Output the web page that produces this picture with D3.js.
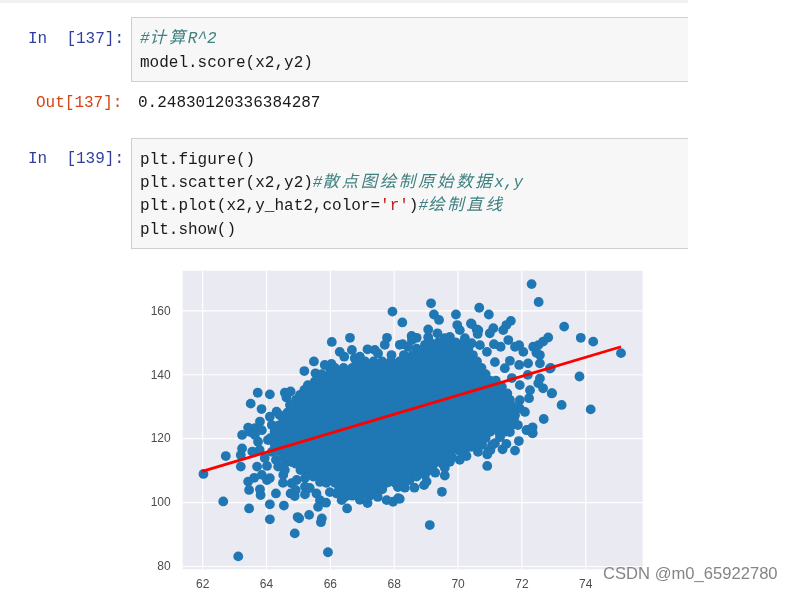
<!DOCTYPE html>
<html>
<head>
<meta charset="utf-8">
<script src="https://cdn.jsdelivr.net/npm/d3@7"></script>
<style>
  html, body { margin: 0; padding: 0; background: #fff; }
  svg { display: block; filter: blur(0.4px); }
  .mono { font-family: "Liberation Mono", monospace; font-size: 16px; }
  .cjk { font-family: "Noto Sans CJK SC", sans-serif; font-size: 16.5px; letter-spacing: 2.6px; }
  .tick text { font-family: "Liberation Sans", Arial, sans-serif; font-size: 12px; fill: #4d4d4d; }
</style>
</head>
<body>
<svg id="page" width="793" height="592"></svg>
<script>
// regression line
const lineX = [62, 75.12];
const lineY = [109.6, 148.6];

const xTicks = [62, 64, 66, 68, 70, 72, 74];
const yTicks = [80, 100, 120, 140, 160];

// loose points around the cloud [x, y]
const loosePoints = [
  [72.32,168.2],[72.54,162.6],[73.34,154.9],[73.86,151.4],[74.25,150.2],[75.12,146.6],[73.82,139.3],[73.26,130.4],
  [74.17,129],[72.7,126],[72.24,132.5],[72.92,142],[72.96,134.1],[62.04,108.8],[62.74,114.4],[62.66,100.2],
  [63.47,98],[64.12,99.3],[64.12,94.6],[64.56,98.9],[64.9,90.2],[63.13,83],[65.94,84.3],[64.99,95.3],[65.04,94.9],
  [65.35,96],[65.75,94.9],[65.72,93.7],[66.54,98],[67.18,99.7],[67.78,100.6],[67.98,100.1],[68.14,101.2],
  [69.13,92.8],[69.51,103.2],[68.35,104.5],[68.65,104.5],[68.95,105.3],[69.03,106.4],[68.19,101],[69.6,108.3],
  [69.3,109.2],[69.76,112.6],[70.28,114.4],[70.93,111.3],[71.8,116.1],[71.92,119.1],[71.41,116.5],[71.53,118.2],
  [70.93,114.9],[71.03,116.3],[70.77,117.9],[71.17,118.4],[70.44,117.3],[72.35,121.5],[72.16,122.5],[68.63,109.5],
  [69.2,112.1],[69.76,115.8],[72.84,151.5],[72.68,150.2],[72.53,149.1],[72.37,148.6],[72.58,146],[72.47,146.7],
  [72.58,143.4],[72.89,141.8],[72.21,143.4],[72.06,147],[71.93,149.1],[71.8,148.6],[71.64,144.2],[71.93,142.9],
  [71.67,156.7],[71.53,155.4],[71.43,153.8],[71.59,150.7],[71.12,154.4],[71.01,152.8],[71.35,148.6],[71.14,149.4],
  [70.98,158.7],[70.65,153.8],[70.44,155.7],[72.58,138.7],[72.68,135.6],[72.95,134],[72.53,137.2],[71.95,129.3],
  [71.8,127.2],[72.35,123.4],[72.18,122.6],[72.35,121.7],[70.96,115.8],[69.17,162.2],[69.26,158.7],[69.42,157],
  [67.96,159.6],[68.27,156.2],[67.79,151.4],[69.95,158.7],[70.68,160.8],[70.42,155.9],[69.99,155.4],[70.07,153.8],
  [70.6,154],[70.63,152.6],[69.08,154],[68.56,152],[68.72,151.4],[69.37,152.8],[69.08,151.6],[69.76,151.7],
  [68.28,149.4],[68.45,148.6],[70.44,149.7],[70.7,149.1],[67.18,147.8],[67.51,146.5],[67.93,146],[66.94,145.5],
  [66.78,145],[66.06,150.1],[66.63,151.4],[66.45,145.5],[65.5,144],[65.2,141],[66.05,143.2],[65.55,140.3],[66,141.9],
  [63.74,134.2],[64.12,133.7],[64.59,134.2],[64.77,134.6],[64.64,132.7],[63.52,130.8],[63.86,129.1],[65.2,135.1],
  [64.33,128.3],[63.44,123.3],[63.65,123.1],[63.81,125.2],[64.12,126.7],[64.96,131.9],[65.53,137.7],[63.25,121],
  [63.25,116.8],[63.21,114.7],[63.21,111.1],[63.57,115.8],[63.75,118.9],[63.8,116.3],[63.49,122],[63.72,111.1],
  [64.03,111.3],[63.63,107.6],[63.44,106.4],[63.47,103.8],[63.81,104],[63.83,102.2],[64.03,106.9],[64.31,102.7],
  [64.77,102.7],[64.9,101.9],[65.22,102.4],[65.58,102.7],[65.69,100.6],[65.88,99.8],[65.63,98.5],[64.38,111.1],
  [64.59,112.1],[64.96,106.9],[64.54,108.5],[64.8,105.9],[65.22,104.8],[65.27,109],[66.37,100.6],[66.21,102.7],
  [67.52,103.5],[67,103.8],[67.88,106.4],[68.61,109.5],[68.25,109]
];

// fringe of the cloud, where the points start to overlap [x, y]
const fringePoints = [
  [64.06,119.4],[64.37,117.8],[64.18,115.7],[63.96,113.8],[64.31,113.2],[64.59,110],[64.81,112.5],[64.12,107.5],
  [64.53,106],[63.87,108.5],[64.93,103.8],[65.22,107.5],[65.37,104.4],[65.69,106.3],[66,103.1],[66.47,101.6],
  [65.53,110],[64.18,124.1],[63.87,122.5],[63.65,121],[64.43,127.2],[64.75,130.4],[65.06,133.5],[65.31,136.6],
  [64.9,126.3],[65.84,142.9],[66.31,147],[66.69,147.6],[67.41,147.6],[67.72,149.2],[68.19,149.2],[68.57,150.7],
  [68.98,149.2],[69.6,151.3],[70.23,151.3],[70.92,147],[71.17,143.8],[71.48,141.9],[71.7,138.8],[71.95,136.6],
  [72.2,139.8],[72.27,135],[71.95,131.9],[72.11,128.2],[71.89,124.1],[71.64,121.9],[71.33,120.3],[71.08,117.8],
  [70.64,115.7],[70.07,113.2],[69.6,110.7],[68.98,108.5],[68.5,106.9],[68.13,104.7],[67.5,101.6],[66.94,100.7]
];

// dense middle of the cloud, one list of x per height
const coreHeights = [150,148,146,144,142,140,138,136,134,132,130,128,126,124,122,120,118,116,114,112,110,108,106,104,102];
const coreX = [
  [69.13,69.4,69.67,69.94,70.21],
  [68.72,68.99,69.26,69.53,69.8,70.07,70.34],
  [68.32,68.59,68.86,69.13,69.4,69.67,69.94,70.21,70.48],
  [66.83,67.1,67.37,67.64,67.91,68.18,68.45,68.72,68.99,69.26,69.53,69.8,70.07,70.34,70.61],
  [66.16,66.43,66.7,66.97,67.24,67.51,67.78,68.05,68.32,68.59,68.86,69.13,69.4,69.67,69.94,70.21,70.48,70.75],
  [65.75,66.02,66.29,66.56,66.83,67.1,67.37,67.64,67.91,68.18,68.45,68.72,68.99,69.26,69.53,69.8,70.07,70.34,70.61,70.88],
  [65.62,65.89,66.16,66.43,66.7,66.97,67.24,67.51,67.78,68.05,68.32,68.59,68.86,69.13,69.4,69.67,69.94,70.21,70.48,70.75,71.02,71.2],
  [65.48,65.75,66.02,66.29,66.56,66.83,67.1,67.37,67.64,67.91,68.18,68.45,68.72,68.99,69.26,69.53,69.8,70.07,70.34,70.61,70.88,71.15,71.39],
  [65.2,65.35,65.62,65.89,66.16,66.43,66.7,66.97,67.24,67.51,67.78,68.05,68.32,68.59,68.86,69.13,69.4,69.67,69.94,70.21,70.48,70.75,71.02,71.29,71.56],
  [64.94,65.21,65.48,65.75,66.02,66.29,66.56,66.83,67.1,67.37,67.64,67.91,68.18,68.45,68.72,68.99,69.26,69.53,69.8,70.07,70.34,70.61,70.88,71.15,71.42,71.64],
  [64.81,65.08,65.35,65.62,65.89,66.16,66.43,66.7,66.97,67.24,67.51,67.78,68.05,68.32,68.59,68.86,69.13,69.4,69.67,69.94,70.21,70.48,70.75,71.02,71.29,71.56,71.73],
  [64.67,64.94,65.21,65.48,65.75,66.02,66.29,66.56,66.83,67.1,67.37,67.64,67.91,68.18,68.45,68.72,68.99,69.26,69.53,69.8,70.07,70.34,70.61,70.88,71.15,71.42,71.69],
  [64.54,64.81,65.08,65.35,65.62,65.89,66.16,66.43,66.7,66.97,67.24,67.51,67.78,68.05,68.32,68.59,68.86,69.13,69.4,69.67,69.94,70.21,70.48,70.75,71.02,71.29,71.56,71.77],
  [64.4,64.67,64.94,65.21,65.48,65.75,66.02,66.29,66.56,66.83,67.1,67.37,67.64,67.91,68.18,68.45,68.72,68.99,69.26,69.53,69.8,70.07,70.34,70.61,70.88,71.15,71.42,71.69],
  [64.27,64.54,64.81,65.08,65.35,65.62,65.89,66.16,66.43,66.7,66.97,67.24,67.51,67.78,68.05,68.32,68.59,68.86,69.13,69.4,69.67,69.94,70.21,70.48,70.75,71.02,71.29,71.48],
  [64.13,64.4,64.67,64.94,65.21,65.48,65.75,66.02,66.29,66.56,66.83,67.1,67.37,67.64,67.91,68.18,68.45,68.72,68.99,69.26,69.53,69.8,70.07,70.34,70.61,70.88],
  [64.27,64.54,64.81,65.08,65.35,65.62,65.89,66.16,66.43,66.7,66.97,67.24,67.51,67.78,68.05,68.32,68.59,68.86,69.13,69.4,69.67,69.94,70.21,70.48,70.64],
  [64.4,64.67,64.94,65.21,65.48,65.75,66.02,66.29,66.56,66.83,67.1,67.37,67.64,67.91,68.18,68.45,68.72,68.99,69.26,69.53,69.8,70.07,70.23],
  [64.54,64.81,65.08,65.35,65.62,65.89,66.16,66.43,66.7,66.97,67.24,67.51,67.78,68.05,68.32,68.59,68.86,69.13,69.4,69.67,69.83],
  [64.94,65.21,65.48,65.75,66.02,66.29,66.56,66.83,67.1,67.37,67.64,67.91,68.18,68.45,68.72,68.99,69.26,69.53],
  [65.08,65.35,65.62,65.89,66.16,66.43,66.7,66.97,67.24,67.51,67.78,68.05,68.32,68.59,68.86,69.13],
  [65.48,65.75,66.02,66.29,66.56,66.83,67.1,67.37,67.64,67.91,68.18,68.45,68.72],
  [65.89,66.16,66.43,66.7,66.97,67.24,67.51,67.78,68.05,68.32],
  [66.29,66.56,66.83,67.1,67.37,67.64],
  [66.43,66.7,66.97,67.24]
];

const points = loosePoints.concat(fringePoints);
coreHeights.forEach((h, i) => {
  coreX[i].forEach(x => points.push([x, h]));
});

const svg = d3.select('#page');

// notebook chrome
svg.append('rect').attr('width', 793).attr('height', 3).attr('fill', '#f1f1f1');

const cells = [[17, 64], [138, 110]];
cells.forEach(c => {
  svg.append('rect')
    .attr('x', 131.5).attr('y', c[0] + 0.5)
    .attr('width', 570).attr('height', c[1])
    .attr('fill', '#f7f7f7').attr('stroke', '#cfcfcf');
});
svg.append('rect').attr('x', 688).attr('y', 0).attr('width', 105).attr('height', 260).attr('fill', '#fff');

function codeLine(x, y, parts) {
  const t = svg.append('text').attr('x', x).attr('y', y).attr('class', 'mono').style('white-space', 'pre');
  parts.forEach(p => {
    const s = t.append('tspan').text(p.t).attr('fill', p.c || '#1a1a1a');
    if (p.i) s.attr('font-style', 'italic');
    if (p.cjk) s.attr('class', 'cjk');
  });
}
const IN = '#303F9F', OUT = '#D84315', COMMENT = '#408080', STR = '#BA2121';

codeLine(28, 43, [{ t: 'In  [137]:', c: IN }]);
codeLine(140, 43, [{ t: '#', c: COMMENT, i: 1 }, { t: '计算', c: COMMENT, i: 1, cjk: 1 }, { t: 'R^2', c: COMMENT, i: 1 }]);
codeLine(140, 67, [{ t: 'model.score(x2,y2)' }]);
codeLine(36, 107, [{ t: 'Out[137]:', c: OUT }]);
codeLine(138, 107, [{ t: '0.24830120336384287' }]);
codeLine(28, 163, [{ t: 'In  [139]:', c: IN }]);
codeLine(140, 164, [{ t: 'plt.figure()' }]);
codeLine(140, 187, [{ t: 'plt.scatter(x2,y2)' }, { t: '#', c: COMMENT, i: 1 }, { t: '散点图绘制原始数据', c: COMMENT, i: 1, cjk: 1 }, { t: 'x,y', c: COMMENT, i: 1 }]);
codeLine(140, 210, [{ t: 'plt.plot(x2,y_hat2,color=' }, { t: "'r'", c: STR }, { t: ')' }, { t: '#', c: COMMENT, i: 1 }, { t: '绘制直线', c: COMMENT, i: 1, cjk: 1 }]);
codeLine(140, 234, [{ t: 'plt.show()' }]);

// the plot
const x = d3.scaleLinear().domain([61.39, 75.8]).range([182.7, 642.7]);
const y = d3.scaleLinear().domain([78.96, 172.4]).range([569.3, 270.7]);

svg.append('rect')
  .attr('x', x.range()[0]).attr('y', y.range()[1])
  .attr('width', x.range()[1] - x.range()[0])
  .attr('height', y.range()[0] - y.range()[1])
  .attr('fill', '#eaeaf2');

const gx = svg.append('g')
  .attr('transform', 'translate(0,' + y.range()[0] + ')')
  .call(d3.axisBottom(x).tickValues(xTicks).tickFormat(d3.format('d'))
    .tickSize(-(y.range()[0] - y.range()[1])).tickPadding(10));
const gy = svg.append('g')
  .attr('transform', 'translate(' + x.range()[0] + ',0)')
  .call(d3.axisLeft(y).tickValues(yTicks).tickFormat(d3.format('d'))
    .tickSize(-(x.range()[1] - x.range()[0])).tickPadding(12));
[gx, gy].forEach(g => {
  g.select('.domain').remove();
  g.selectAll('.tick line').attr('stroke', '#fff').attr('stroke-width', 1.2);
});

svg.append('g').selectAll('circle')
  .data(points)
  .enter().append('circle')
  .attr('cx', d => x(d[0]))
  .attr('cy', d => y(d[1]))
  .attr('r', 4.9)
  .attr('fill', '#1f77b4');

const line = d3.line().x(d => x(d[0])).y(d => y(d[1]));
svg.append('path')
  .attr('d', line(d3.zip(lineX, lineY)))
  .attr('fill', 'none')
  .attr('stroke', '#ff0000')
  .attr('stroke-width', 2.8);

// watermark
svg.append('text')
  .attr('x', 603).attr('y', 579)
  .attr('font-family', '"Liberation Sans", Arial, sans-serif')
  .attr('font-size', 16.6)
  .attr('fill', '#858585')
  .text('CSDN @m0_65922780');
</script>
</body>
</html>
